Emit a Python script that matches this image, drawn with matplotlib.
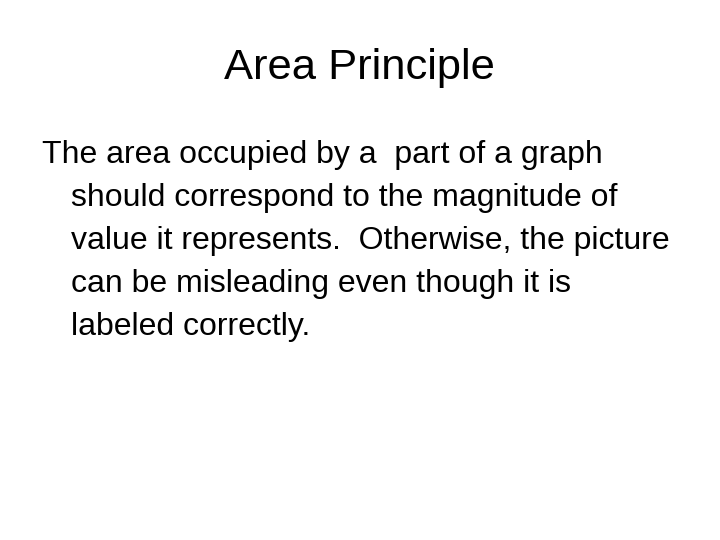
import matplotlib.pyplot as plt

plt.rcParams['font.family'] = ['Liberation Sans', 'DejaVu Sans']

title = "Area Principle"
lines = [
    "The area occupied by a  part of a graph",
    "should correspond to the magnitude of",
    "value it represents.  Otherwise, the picture",
    "can be misleading even though it is",
    "labeled correctly.",
]
indents = [42, 71, 71, 71, 71]
line_y = [155, 198, 241, 284, 327]

W, H = 720, 540
fig = plt.figure(figsize=(7.2, 5.4), dpi=100)
fig.patch.set_facecolor('white')

fig.text(359 / W, 1 - 68 / H, title, ha='center', va='center', fontsize=31.3, color='black')

for txt, x, y in zip(lines, indents, line_y):
    fig.text(x / W, 1 - y / H, txt, ha='left', va='center', fontsize=23, color='black')

fig.savefig("out.png", dpi=100)
